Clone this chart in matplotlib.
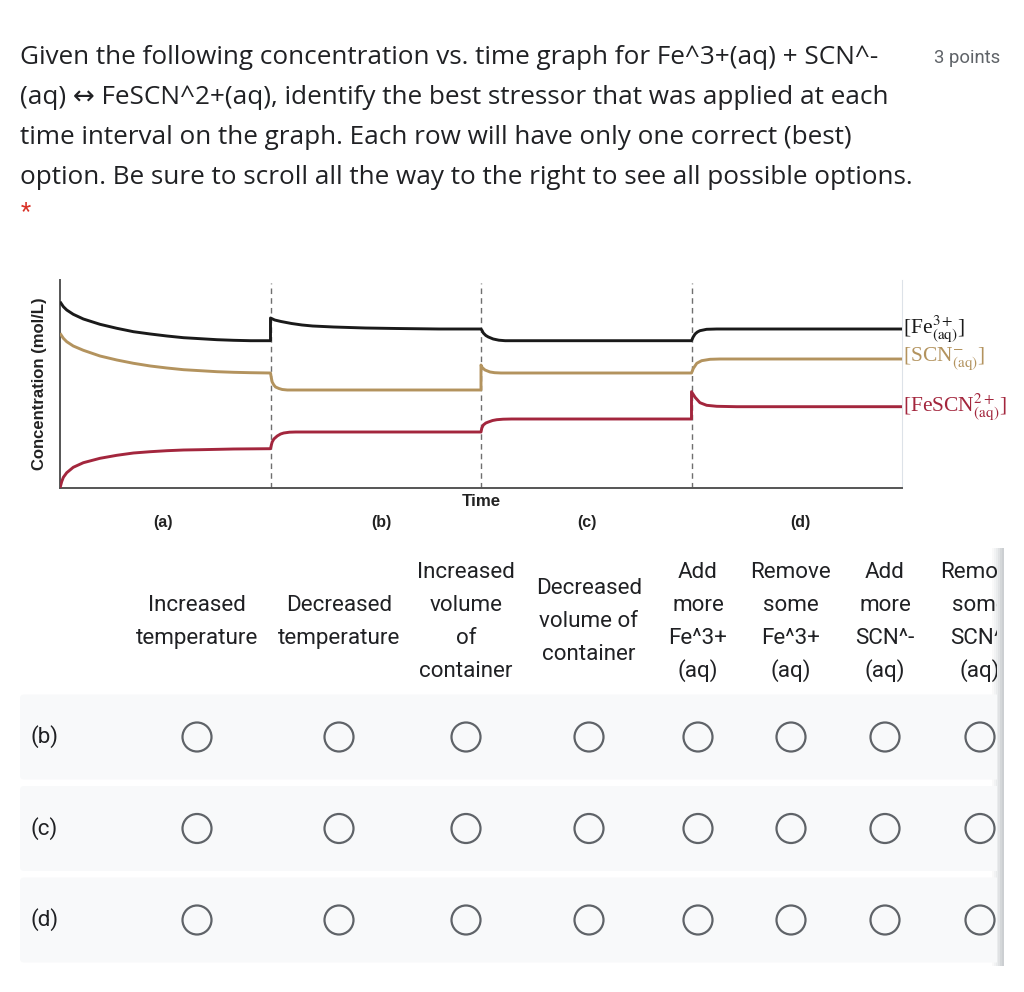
import matplotlib
matplotlib.use("Agg")
import matplotlib.pyplot as plt
from matplotlib.patches import FancyBboxPatch, Circle, Rectangle

plt.rcParams['mathtext.fontset'] = 'stix'

# ---------------- data ----------------
question_lines = [
    "Given the following concentration vs. time graph for Fe^3+(aq) + SCN^-",
    "(aq) \u2194 FeSCN^2+(aq), identify the best stressor that was applied at each",
    "time interval on the graph. Each row will have only one correct (best)",
    "option. Be sure to scroll all the way to the right to see all possible options.",
]
points_label = "3 points"

# time boundaries of the stress intervals
boundaries = [1.0, 2.0, 3.0]
t_end = 4.0
interval_labels = ["(a)", "(b)", "(c)", "(d)"]
interval_centers = [0.49, 1.525, 2.504, 3.515]
axis_x_label = "Time"
axis_y_label = "Concentration (mol/L)"

fe_t = [0.0, 0.016, 0.032, 0.063, 0.111, 0.190, 0.270, 0.349, 0.429, 0.508,
        0.587, 0.667, 0.746, 0.825, 0.905, 1.0,
        1.0, 1.02, 1.05, 1.10, 1.15, 1.20, 1.30, 1.45, 1.60, 1.80, 2.0,
        2.005, 2.011, 2.023, 2.035, 2.058, 2.085, 2.115, 3.0,
        3.008, 3.017, 3.028, 3.040, 3.072, 3.12, 4.0]
fe_c = [1.863, 1.813, 1.78, 1.737, 1.69, 1.637, 1.597, 1.563, 1.54, 1.52,
        1.503, 1.493, 1.483, 1.477, 1.473, 1.473,
        1.70, 1.68, 1.665, 1.645, 1.63, 1.62, 1.61, 1.60, 1.595, 1.59, 1.59,
        1.575, 1.55, 1.525, 1.51, 1.49, 1.478, 1.473, 1.473,
        1.51, 1.54, 1.56, 1.573, 1.587, 1.59, 1.59]

scn_t = [0.0, 0.016, 0.032, 0.063, 0.111, 0.190, 0.270, 0.349, 0.429, 0.508,
         0.587, 0.667, 0.746, 0.825, 0.905, 1.0,
         1.004, 1.008, 1.016, 1.024, 1.040, 1.056, 1.08, 2.0,
         2.0, 2.004, 2.008, 2.019, 2.031, 2.043, 2.065, 2.095, 3.0,
         3.009, 3.025, 3.048, 3.088, 3.135, 4.0]
scn_c = [1.547, 1.497, 1.463, 1.42, 1.377, 1.32, 1.28, 1.247, 1.22, 1.20,
         1.183, 1.173, 1.163, 1.157, 1.153, 1.15,
         1.10, 1.06, 1.03, 1.01, 0.995, 0.985, 0.98, 0.98,
         1.23, 1.21, 1.20, 1.18, 1.17, 1.16, 1.153, 1.15, 1.15,
         1.197, 1.247, 1.273, 1.287, 1.29, 1.29]

fescn_t = [0.0, 0.008, 0.016, 0.032, 0.063, 0.111, 0.190, 0.270, 0.349, 0.429,
           0.508, 0.587, 0.667, 0.825, 1.0,
           1.004, 1.008, 1.016, 1.032, 1.048, 1.063, 1.09, 1.12, 2.0,
           2.004, 2.011, 2.023, 2.035, 2.055, 2.075, 2.105, 2.145, 3.0,
           3.0, 3.017, 3.040, 3.072, 3.12, 3.215, 4.0]
fescn_c = [0.0, 0.063, 0.107, 0.153, 0.207, 0.253, 0.297, 0.327, 0.35, 0.363,
           0.373, 0.38, 0.383, 0.39, 0.393,
           0.43, 0.46, 0.49, 0.52, 0.54, 0.55, 0.558, 0.56, 0.56,
           0.60, 0.63, 0.65, 0.66, 0.675, 0.683, 0.688, 0.69, 0.69,
           0.963, 0.907, 0.853, 0.827, 0.817, 0.813, 0.813]

species_labels = [r"[Fe$^{3+}_{\mathrm{(aq)}}$]",
                  r"[SCN$^{-}_{\mathrm{(aq)}}$]",
                  r"[FeSCN$^{2+}_{\mathrm{(aq)}}$]"]
species_colors = ["#1a1a1a", "#b3935e", "#a3263d"]

options = [
    ["Increased", "temperature"],
    ["Decreased", "temperature"],
    ["Increased", "volume", "of", "container"],
    ["Decreased", "volume of", "container"],
    ["Add", "more", "Fe^3+", "(aq)"],
    ["Remove", "some", "Fe^3+", "(aq)"],
    ["Add", "more", "SCN^-", "(aq)"],
    ["Remove", "some", "SCN^-", "(aq)"],
]
rows = ["(b)", "(c)", "(d)"]

# ---------------- layout (pixels) ----------------
W, H = 1024, 992
fig = plt.figure(figsize=(W / 100, H / 100), dpi=100)
fig.patch.set_facecolor("white")
renderer = fig.canvas.get_renderer()

def px_axes(x0, y0, x1, y1, **kw):
    return fig.add_axes([x0 / W, 1 - y1 / H, (x1 - x0) / W, (y1 - y0) / H], **kw)

def text_width(text, family, size):
    t = fig.text(0, 0, text, fontsize=size, family=family)
    w = t.get_window_extent(renderer).width
    t.remove()
    return w

def fit_size(text, family, target_px, base=16.0):
    return base * target_px / text_width(text, family, base)

bg = px_axes(0, 0, W, H)
bg.set_xlim(0, W); bg.set_ylim(H, 0); bg.axis("off")

qfam = ["Open Sans", "DejaVu Sans"]
sans = ["Roboto", "DejaVu Sans"]
w_first = text_width(question_lines[0], qfam, 16.0)
w_last = text_width(question_lines[3], qfam, 16.0)
qsize = 16.0 * (873 + 886) / (w_first + w_last)
for i, line in enumerate(question_lines):
    bg.text(20, 57 + 40 * i, line, fontsize=qsize, family=qfam, color="#202124",
            va="center", ha="left")
bg.text(1000, 58, points_label, fontsize=13.3, family=sans, color="#5f6368",
        va="center", ha="right")
bg.text(21, 212, "*", fontsize=17, family=sans, color="#d93025", va="center", ha="left")

# ---------------- chart ----------------
ax = px_axes(60, 280, 902, 488)
ax.set_xlim(0, t_end)
ax.set_ylim(0, 2.08)
for tb in boundaries:
    ax.axvline(tb, ymin=0, ymax=0.985, color="#6f6f6f", lw=1.0, ls=(0, (4, 3)), zorder=1)
for tt, cc, col in [(fe_t, fe_c, species_colors[0]),
                    (scn_t, scn_c, species_colors[1]),
                    (fescn_t, fescn_c, species_colors[2])]:
    ax.plot(tt, cc, color=col, lw=2.1, solid_capstyle="butt", solid_joinstyle="round",
            zorder=3)
ax.set_xticks([]); ax.set_yticks([])
ax.spines["top"].set_visible(False)
ax.spines["right"].set_color("#dde2e8")
ax.spines["right"].set_linewidth(0.8)
for s in ["left", "bottom"]:
    ax.spines[s].set_color("#555555")
    ax.spines[s].set_linewidth(1.4)
ax.patch.set_alpha(0)

ends = [fe_c[-1], scn_c[-1], fescn_c[-1]]
for lab, col, yv in zip(species_labels, species_colors, ends):
    ax.text(t_end + 0.005, yv, lab, color=col, fontsize=15.5, family="Liberation Serif",
            va="center", ha="left", clip_on=False)

bold = ["Liberation Sans", "DejaVu Sans"]
ax.set_ylabel(axis_y_label, fontsize=12, fontweight="bold",
              family=bold, color="#222222", labelpad=9)
ax.text(2.0, -0.06, axis_x_label, fontsize=12.2, fontweight="bold",
        family=bold, ha="center", va="top", color="#222222", clip_on=False)
for lab, xc in zip(interval_labels, interval_centers):
    ax.text(xc, -0.27, lab, fontsize=11.5, fontweight="bold",
            family=bold, ha="center", va="top", color="#222222", clip_on=False)

# ---------------- table ----------------
tab = px_axes(0, 540, 997, 992)
tab.set_xlim(0, 997); tab.set_ylim(992, 540); tab.axis("off")

hsize = fit_size("temperature", sans, 122)
col_x = [197, 339, 466, 589, 698, 791, 885, 980]
line_h = 33
center_y = 621.5
for cx, lines in zip(col_x, options):
    n = len(lines)
    y0 = center_y - (n - 1) * line_h / 2
    for j, ln in enumerate(lines):
        tab.text(cx, y0 + j * line_h, ln, fontsize=hsize, family=sans, color="#202124",
                 ha="center", va="center", clip_on=True)

row_y = [737, 828.5, 920]
for ry, rl in zip(row_y, rows):
    tab.add_patch(FancyBboxPatch((20, ry - 42.5), 990, 85,
                                 boxstyle="round,pad=0,rounding_size=4",
                                 facecolor="#f8f9fa", edgecolor="none", zorder=1))
    tab.text(30, ry, rl, fontsize=hsize, family=sans, color="#202124",
             ha="left", va="center", zorder=3, clip_on=True)
    for cx in col_x:
        tab.add_patch(Circle((cx, ry), 14.5, facecolor="none", edgecolor="#5f6368",
                             lw=1.6, zorder=3))

# scroll shadow on the right edge
for k, a in enumerate([0.06, 0.12, 0.2, 0.3, 0.42, 0.5]):
    bg.add_patch(Rectangle((992 + k * 2, 548), 2, 418, facecolor="#9aa0a6", alpha=a,
                           edgecolor="none", zorder=5))

fig.savefig("out.png", dpi=100, facecolor="white")
